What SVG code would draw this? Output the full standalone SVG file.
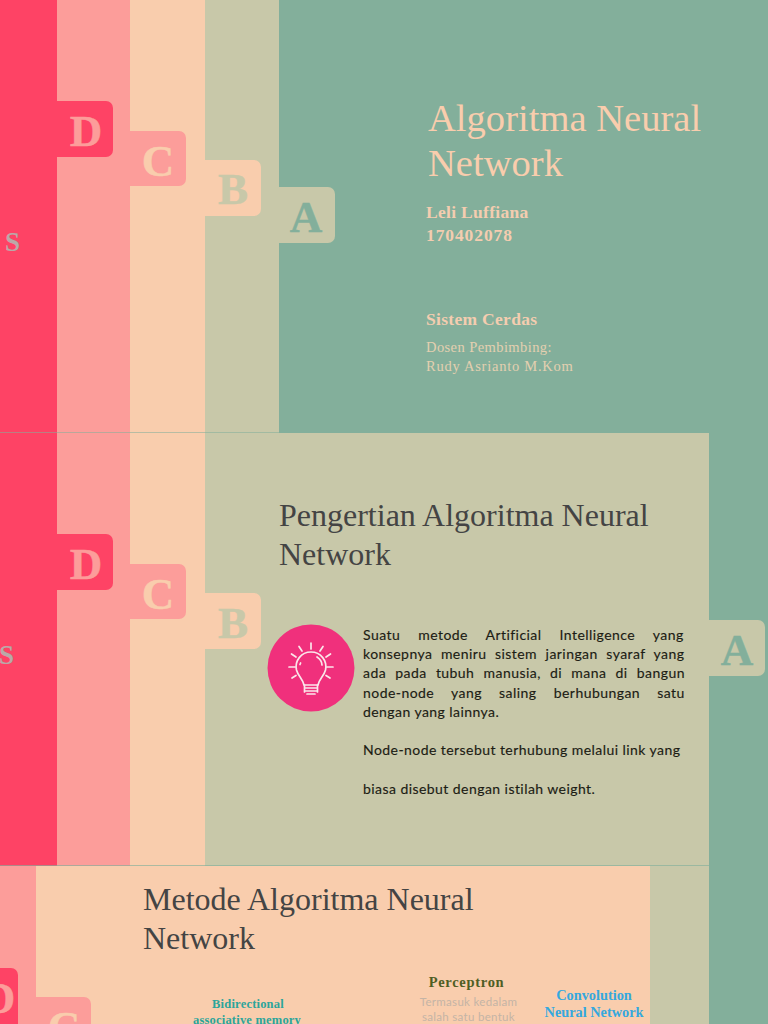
<svg xmlns="http://www.w3.org/2000/svg" width="768" height="1024" viewBox="0 0 768 1024">
<style>
.s{font-family:"Liberation Serif",serif}
.tab{font-family:"Liberation Serif",serif;font-weight:700;font-size:45px;text-anchor:middle;stroke-width:.5px}
.h{font-family:"Liberation Serif",serif;font-size:32px;fill:#444444}
.t{font-family:"Liberation Serif",serif;font-size:38.600px;fill:#F9CDAD}
.b{font-family:Lato,"Open Sans",sans-serif;font-size:14px;letter-spacing:.44px;fill:#1c1c14;stroke:#1c1c14;stroke-width:.15px}
.red{fill:#FE4365}.pink{fill:#FC9D9A}.peach{fill:#F9CDAD}.olive{fill:#C8C8A9}.green{fill:#83AF9B}
</style>
<rect class="green" width="768" height="1024"/>
<g id="slide1">
<rect class="red" x="0" y="0" width="57" height="433"/>
<rect class="pink" x="57" y="0" width="73" height="433"/>
<rect class="peach" x="130" y="0" width="75" height="433"/>
<rect class="olive" x="205" y="0" width="74" height="433"/>
<g id="tab-d1"><path class="red" d="M57 101H106a7 7 0 0 1 7 7V150a7 7 0 0 1-7 7H57z"/><text class="tab" x="86" y="146" style="fill:#FC9D9A;stroke:#FC9D9A">D</text></g>
<g id="tab-c1"><path class="pink" d="M130 131H179a7 7 0 0 1 7 7V179a7 7 0 0 1-7 7H130z"/><text class="tab" x="158" y="176" style="fill:#F9CDAD;stroke:#F9CDAD">C</text></g>
<g id="tab-b1"><path class="peach" d="M205 160H254a7 7 0 0 1 7 7V209a7 7 0 0 1-7 7H205z"/><text class="tab" x="233" y="204" style="fill:#C8C8A9;stroke:#C8C8A9">B</text></g>
<g id="tab-a1"><path class="olive" d="M279 187H328a7 7 0 0 1 7 7V236a7 7 0 0 1-7 7H279z"/><text class="tab" x="306" y="232" style="fill:#83AF9B;stroke:#83AF9B">A</text></g>
<text class="s" x="5" y="251" font-size="27" font-weight="700" fill="#BBA8A8">S</text>
<text class="t" x="428" y="131">Algoritma Neural</text>
<text class="t" x="428" y="176">Network</text>
<text class="s" x="426" y="218" font-size="17.500" font-weight="700" letter-spacing=".3" fill="#F4CDB0">Leli Luffiana</text>
<text class="s" x="426" y="241" font-size="17.500" font-weight="700" letter-spacing=".9" fill="#F4CDB0">170402078</text>
<text class="s" x="426" y="325" font-size="17.500" font-weight="700" letter-spacing=".3" fill="#F4CDB0">Sistem Cerdas</text>
<text class="s" x="426" y="352" font-size="14.500" letter-spacing=".42" fill="#E4CFB0">Dosen Pembimbing:</text>
<text class="s" x="426" y="371" font-size="14.500" letter-spacing=".75" fill="#E4CFB0">Rudy Asrianto M.Kom</text>
</g>
<g id="slide2">
<rect class="olive" x="0" y="433" width="709" height="433"/>
<rect class="red" x="0" y="433" width="57" height="433"/>
<rect class="pink" x="57" y="433" width="73" height="433"/>
<rect class="peach" x="130" y="433" width="75" height="433"/>
<g id="tab-d2"><path class="red" d="M57 534H106a7 7 0 0 1 7 7V583a7 7 0 0 1-7 7H57z"/><text class="tab" x="86" y="579" style="fill:#FC9D9A;stroke:#FC9D9A">D</text></g>
<g id="tab-c2"><path class="pink" d="M130 564H179a7 7 0 0 1 7 7V612a7 7 0 0 1-7 7H130z"/><text class="tab" x="158" y="609" style="fill:#F9CDAD;stroke:#F9CDAD">C</text></g>
<g id="tab-b2"><path class="peach" d="M205 593H254a7 7 0 0 1 7 7V642a7 7 0 0 1-7 7H205z"/><text class="tab" x="233" y="638" style="fill:#C8C8A9;stroke:#C8C8A9">B</text></g>
<g id="tab-a2"><path class="olive" d="M709 620H758a7 7 0 0 1 7 7V669a7 7 0 0 1-7 7H709z"/><text class="tab" x="737" y="665" style="fill:#83AF9B;stroke:#83AF9B">A</text></g>
<text class="s" x="-1" y="664" font-size="27" font-weight="700" fill="#BBA8A8">S</text>
<text class="h" x="279" y="526">Pengertian Algoritma Neural</text>
<text class="h" x="279" y="565">Network</text>
<g id="icon-bulb">
<circle cx="311" cy="668" r="43.500" fill="#F0307C"/>
<g fill="none" stroke="#FBE6EA" stroke-width="1.700" stroke-linecap="round">
<path d="M304 685C303 679 298 676 296.500 670C294.500 661 301 652 311 652C321 652 327.500 661 325.500 670C324 676 319 679 318 685z"/>
<path d="M317 657C320 659 322 662 322 665M300 664.500L300.600 663"/>
<path d="M304.500 685V692M317.500 685V692M305 688H317M305 691H317M307 694H315"/>
<path d="M311 643V649M299 646.500L302 651M323 646.500L320 651M291.500 654L296 657M330.500 654L326 657M289 667H295M327 667H333M292 678L296 675.500M330 678L326 675.500"/>
</g>
</g>
<g id="body-text">
<text class="b" x="363" y="640" word-spacing="14.100">Suatu metode Artificial Intelligence yang</text>
<text class="b" x="363" y="659" word-spacing="4.500">konsepnya meniru sistem jaringan syaraf yang</text>
<text class="b" x="363" y="678" word-spacing="5.200">ada pada tubuh manusia, di mana di bangun</text>
<text class="b" x="363" y="698" word-spacing="13.200">node-node yang saling berhubungan satu</text>
<text class="b" x="363" y="717">dengan yang lainnya.</text>
<text class="b" x="363" y="755">Node-node tersebut terhubung melalui link yang</text>
<text class="b" x="363" y="794">biasa disebut dengan istilah weight.</text>
</g>
</g>
<g id="slide3">
<rect class="olive" x="0" y="866" width="709" height="158"/>
<rect class="pink" x="0" y="866" width="36" height="158"/>
<rect class="peach" x="36" y="866" width="614" height="158"/>
<g id="tab-d3"><path class="red" d="M0 968H11a7 7 0 0 1 7 7V1024H0z"/><text class="tab" x="-1" y="1013" style="fill:#FC9D9A;stroke:#FC9D9A">D</text></g>
<g id="tab-c3"><path class="pink" d="M36 997H84a7 7 0 0 1 7 7V1024H36z"/><text class="tab" x="64" y="1042" style="fill:#F9CDAD;stroke:#F9CDAD">C</text></g>
<text class="h" x="143" y="910">Metode Algoritma Neural</text>
<text class="h" x="143" y="949">Network</text>
<text class="s" x="248" y="1008" font-size="12.500" font-weight="700" text-anchor="middle" letter-spacing=".2" fill="#2BA59B">Bidirectional</text>
<text class="s" x="247" y="1024" font-size="12.500" font-weight="700" text-anchor="middle" letter-spacing=".2" fill="#2BA59B">associative memory</text>
<text class="s" x="466.500" y="987" font-size="14.500" font-weight="700" text-anchor="middle" letter-spacing=".7" fill="#4E5E24">Perceptron</text>
<text x="468.500" y="1006" font-family="Lato,sans-serif" font-size="11.500" text-anchor="middle" letter-spacing=".3" fill="#C4B4A6">Termasuk kedalam</text>
<text x="468.500" y="1021" font-family="Lato,sans-serif" font-size="11.500" text-anchor="middle" letter-spacing=".3" fill="#C4B4A6">salah satu bentuk</text>
<text class="s" x="594" y="1000" font-size="14.300" font-weight="700" text-anchor="middle" fill="#35A8DE">Convolution</text>
<text class="s" x="594" y="1017" font-size="14.300" font-weight="700" text-anchor="middle" fill="#35A8DE">Neural Network</text>
</g>
<g id="seams">
<rect class="green" x="0" y="432" width="279" height="1" opacity=".55"/>
<rect class="green" x="0" y="865" width="709" height="1" opacity=".65"/>
</g>
</svg>
